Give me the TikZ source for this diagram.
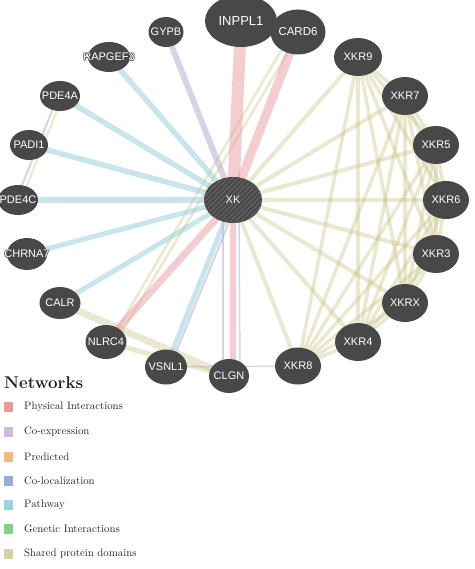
\documentclass[tikz,border=0pt]{standalone}
\usepackage{fontspec}
\newfontfamily\labfont{Liberation Sans}
\usetikzlibrary{shapes.geometric,backgrounds,patterns.meta}
\definecolor{cPhys}{RGB}{233,157,163}
\definecolor{cCoexp}{RGB}{188,172,213}
\definecolor{cPath}{RGB}{147,205,217}
\definecolor{cShared}{RGB}{200,196,130}
\definecolor{lPhys}{RGB}{234,152,152}
\definecolor{lCoexp}{RGB}{205,186,220}
\definecolor{lPred}{RGB}{245,185,128}
\definecolor{lColoc}{RGB}{152,172,216}
\definecolor{lPath}{RGB}{150,214,220}
\definecolor{lGenet}{RGB}{130,210,132}
\definecolor{lShared}{RGB}{215,210,162}
\definecolor{nodegray}{RGB}{72,72,72}
\definecolor{stripe}{RGB}{100,100,100}
\newcommand\halotxt[1]{\setbox0\hbox{#1}%
\rlap{\color{nodegray}\raisebox{0.7pt}{\copy0}}%
\rlap{\color{nodegray}\raisebox{-0.7pt}{\copy0}}%
\rlap{\color{nodegray}\kern0.7pt\copy0}%
\rlap{\color{nodegray}\kern-0.7pt\copy0}%
\copy0}
\newcommand\lbl[1]{\makebox[0pt]{\halotxt{#1}}}
\tikzset{
  gn/.style={ellipse, fill=nodegray, draw=none, inner sep=0pt, text=white,
    font=\labfont\fontsize{11}{11}\selectfont},
  ephys/.style={draw=cPhys, opacity=0.5, line width=#1},
  ephys/.default=6,
  ecoexp/.style={draw=cCoexp, opacity=0.55, line width=#1},
  ecoexp/.default=2,
  epath/.style={draw=cPath, opacity=0.5, line width=#1},
  epath/.default=5.5,
  eshared/.style={draw=cShared, opacity=0.38, line width=#1},
  eshared/.default=4,
  legsq/.style={fill=#1, draw=none, minimum size=9.5pt, inner sep=0pt},
  legtxt/.style={anchor=west, inner sep=0pt, text=black!85,
    font=\fontsize{10.8}{11}\selectfont},
}
\begin{document}
\begin{tikzpicture}[x=1pt,y=-1pt]
\useasboundingbox (0,0) rectangle (474,569);
% nodes
\node[gn, minimum width=72, minimum height=52, font=\labfont\fontsize{13}{13}\selectfont] (INPPL1) at (241,21) {\lbl{INPPL1}};
\node[gn, minimum width=55, minimum height=45, font=\labfont\fontsize{11.5}{11.5}\selectfont] (CARD6) at (298,32) {\lbl{CARD6}};
\node[gn, minimum width=35, minimum height=30] (GYPB) at (166,32) {\lbl{GYPB}};
\node[gn, minimum width=42, minimum height=30] (RAPGEF3) at (109,57) {\lbl{RAPGEF3}};
\node[gn, minimum width=40, minimum height=30] (PDE4A) at (60,96) {\lbl{PDE4A}};
\node[gn, minimum width=38, minimum height=30] (PADI1) at (29,145) {\lbl{PADI1}};
\node[gn, minimum width=40, minimum height=30] (PDE4C) at (18,200) {\lbl{PDE4C}};
\node[gn, minimum width=40, minimum height=32] (CHRNA7) at (27,254) {\lbl{CHRNA7}};
\node[gn, minimum width=41, minimum height=32] (CALR) at (60,303) {\lbl{CALR}};
\node[gn, minimum width=41, minimum height=34] (NLRC4) at (106,342) {\lbl{NLRC4}};
\node[gn, minimum width=42, minimum height=35] (VSNL1) at (166,367) {\lbl{VSNL1}};
\node[gn, minimum width=40, minimum height=34] (CLGN) at (229,376) {\lbl{CLGN}};
\node[gn, minimum width=46, minimum height=37] (XKR8) at (298,366) {\lbl{XKR8}};
\node[gn, minimum width=46, minimum height=38] (XKR4) at (358,342) {\lbl{XKR4}};
\node[gn, minimum width=46, minimum height=38] (XKRX) at (405,303) {\lbl{XKRX}};
\node[gn, minimum width=46, minimum height=38] (XKR3) at (436,254) {\lbl{XKR3}};
\node[gn, minimum width=46, minimum height=38] (XKR6) at (446,200) {\lbl{XKR6}};
\node[gn, minimum width=46, minimum height=38] (XKR5) at (436,145) {\lbl{XKR5}};
\node[gn, minimum width=46, minimum height=38] (XKR7) at (405,96) {\lbl{XKR7}};
\node[gn, minimum width=48, minimum height=38] (XKR9) at (358,57) {\lbl{XKR9}};
\node[gn, minimum width=58, minimum height=46,
  postaction={pattern={Lines[angle=45,distance=3.6pt,line width=1.1pt]}, pattern color=stripe}] (XK) at (233,200) {\lbl{XK}};
% edges
\begin{scope}[on background layer]
\fill[white] (0,0) rectangle (474,569);
% shared protein domains
\foreach \a [count=\i] in {XKR9,XKR7,XKR5,XKR6,XKR3,XKRX,XKR4,XKR8}{
  \draw[eshared] (XK.center) -- (\a.center);
  \foreach \b [count=\j] in {XKR9,XKR7,XKR5,XKR6,XKR3,XKRX,XKR4,XKR8}{
    \ifnum\j>\i \draw[eshared=3.5] (\a.center) -- (\b.center);\fi
  }
}
\draw[eshared=2.5] ([xshift=-6pt]CARD6.center) -- ([xshift=4pt]NLRC4.center);
\draw[eshared=2.5] ([xshift=2pt]CARD6.center) -- ([xshift=10pt]NLRC4.center);
\draw[eshared=7] (CALR.center) -- (CLGN.center);
\draw[eshared=5] (NLRC4.center) -- (CLGN.center);
\draw[eshared=2] ([xshift=3pt]PDE4A.center) -- ([xshift=3pt]PDE4C.center);
% pathway
\draw[epath] (XK.center) -- (RAPGEF3.center);
\draw[epath] (XK.center) -- (PDE4A.center);
\draw[epath] (XK.center) -- (PADI1.center);
\draw[epath] (XK.center) -- (PDE4C.center);
\draw[epath=5] (XK.center) -- (CHRNA7.center);
\draw[epath=5] (XK.center) -- (CALR.center);
\draw[epath=5] (XK.center) -- (VSNL1.center);
% co-expression
\draw[ecoexp=6] (XK.center) -- (GYPB.center);
\draw[ecoexp=2] ([xshift=5pt]XK.center) -- ([xshift=4pt]VSNL1.center);
\draw[ecoexp=1.5] ([xshift=-10pt]XK.center) -- ([xshift=-6pt]CLGN.center);
\draw[ecoexp=1.5] ([xshift=6pt]XK.center) -- ([xshift=11pt]CLGN.center);
\draw[ecoexp=1.2] (VSNL1.center) -- (XKR8.center);
\draw[ecoexp=2] ([xshift=-2pt]PDE4A.center) -- ([xshift=-2pt]PDE4C.center);
% physical interactions
\draw[ephys=12] (XK.center) -- (INPPL1.center);
\draw[ephys=9] (XK.center) -- (CARD6.center);
\draw[ephys=7] (XK.center) -- (NLRC4.center);
\draw[ephys=6] (XK.center) -- ([xshift=4pt]CLGN.center);
\end{scope}
% legend
\node[anchor=base west, inner sep=0pt, text=black!88, font=\fontsize{17}{17}\selectfont\bfseries] (nethead) at (4,388) {Networks};
\node[legsq=lPhys] (sq1) at (8.5,407) {};
\node[legtxt] (t1) at (24,407) {Physical Interactions};
\node[legsq=lCoexp] (sq2) at (8.5,432) {};
\node[legtxt] (t2) at (24,432) {Co-expression};
\node[legsq=lPred] (sq3) at (8.5,457) {};
\node[legtxt] (t3) at (24,457) {Predicted};
\node[legsq=lColoc] (sq4) at (8.5,481) {};
\node[legtxt] (t4) at (24,481) {Co-localization};
\node[legsq=lPath] (sq5) at (8.5,505) {};
\node[legtxt] (t5) at (24,505) {Pathway};
\node[legsq=lGenet] (sq6) at (8.5,529) {};
\node[legtxt] (t6) at (24,529) {Genetic Interactions};
\node[legsq=lShared] (sq7) at (8.5,554) {};
\node[legtxt] (t7) at (24,554) {Shared protein domains};
\end{tikzpicture}
\end{document}
